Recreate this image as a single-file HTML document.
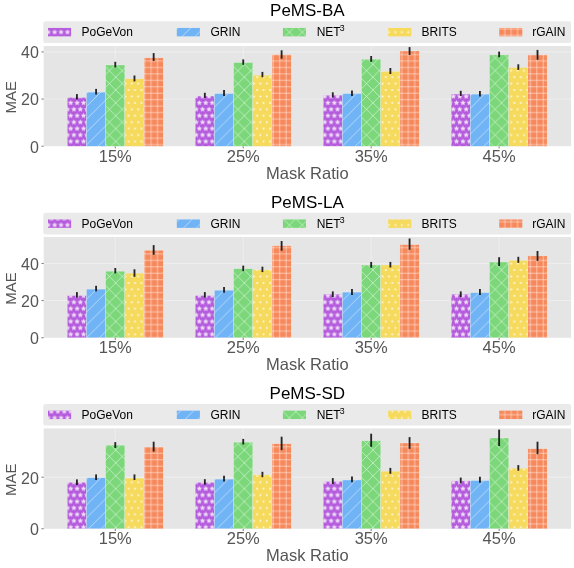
<!DOCTYPE html><html><head><meta charset="utf-8"><style>html,body{margin:0;padding:0;background:#fff;overflow:hidden}svg{display:block;will-change:transform}text{font-family:"Liberation Sans", sans-serif}</style></head><body>
<svg width="574" height="568" viewBox="0 0 574 568">
<defs><pattern id="star" patternUnits="userSpaceOnUse" width="38.58" height="38.58"><path d="M0.00,-2.55 L0.75,-1.03 L2.43,-0.79 L1.21,0.39 L1.50,2.06 L0.00,1.27 L-1.50,2.06 L-1.21,0.39 L-2.43,-0.79 L-0.75,-1.03ZM6.43,-2.55 L7.18,-1.03 L8.86,-0.79 L7.64,0.39 L7.93,2.06 L6.43,1.27 L4.93,2.06 L5.22,0.39 L4.00,-0.79 L5.68,-1.03ZM12.86,-2.55 L13.61,-1.03 L15.29,-0.79 L14.07,0.39 L14.36,2.06 L12.86,1.27 L11.36,2.06 L11.65,0.39 L10.43,-0.79 L12.11,-1.03ZM19.29,-2.55 L20.04,-1.03 L21.72,-0.79 L20.50,0.39 L20.79,2.06 L19.29,1.27 L17.79,2.06 L18.08,0.39 L16.86,-0.79 L18.54,-1.03ZM25.72,-2.55 L26.47,-1.03 L28.15,-0.79 L26.93,0.39 L27.22,2.06 L25.72,1.27 L24.22,2.06 L24.51,0.39 L23.29,-0.79 L24.97,-1.03ZM32.15,-2.55 L32.90,-1.03 L34.58,-0.79 L33.36,0.39 L33.65,2.06 L32.15,1.27 L30.65,2.06 L30.94,0.39 L29.72,-0.79 L31.40,-1.03ZM38.58,-2.55 L39.33,-1.03 L41.01,-0.79 L39.79,0.39 L40.08,2.06 L38.58,1.27 L37.08,2.06 L37.37,0.39 L36.15,-0.79 L37.83,-1.03ZM3.21,3.88 L3.96,5.40 L5.64,5.64 L4.43,6.82 L4.71,8.49 L3.21,7.71 L1.72,8.49 L2.00,6.82 L0.79,5.64 L2.47,5.40ZM9.64,3.88 L10.39,5.40 L12.07,5.64 L10.86,6.82 L11.14,8.49 L9.64,7.71 L8.15,8.49 L8.43,6.82 L7.22,5.64 L8.90,5.40ZM16.07,3.88 L16.82,5.40 L18.50,5.64 L17.29,6.82 L17.57,8.49 L16.07,7.71 L14.58,8.49 L14.86,6.82 L13.65,5.64 L15.33,5.40ZM22.50,3.88 L23.25,5.40 L24.93,5.64 L23.72,6.82 L24.00,8.49 L22.50,7.71 L21.01,8.49 L21.29,6.82 L20.08,5.64 L21.76,5.40ZM28.93,3.88 L29.68,5.40 L31.36,5.64 L30.15,6.82 L30.43,8.49 L28.93,7.71 L27.44,8.49 L27.72,6.82 L26.51,5.64 L28.19,5.40ZM35.36,3.88 L36.11,5.40 L37.79,5.64 L36.58,6.82 L36.86,8.49 L35.36,7.71 L33.87,8.49 L34.15,6.82 L32.94,5.64 L34.62,5.40ZM0.00,10.31 L0.75,11.83 L2.43,12.07 L1.21,13.25 L1.50,14.92 L0.00,14.13 L-1.50,14.92 L-1.21,13.25 L-2.43,12.07 L-0.75,11.83ZM6.43,10.31 L7.18,11.83 L8.86,12.07 L7.64,13.25 L7.93,14.92 L6.43,14.13 L4.93,14.92 L5.22,13.25 L4.00,12.07 L5.68,11.83ZM12.86,10.31 L13.61,11.83 L15.29,12.07 L14.07,13.25 L14.36,14.92 L12.86,14.13 L11.36,14.92 L11.65,13.25 L10.43,12.07 L12.11,11.83ZM19.29,10.31 L20.04,11.83 L21.72,12.07 L20.50,13.25 L20.79,14.92 L19.29,14.13 L17.79,14.92 L18.08,13.25 L16.86,12.07 L18.54,11.83ZM25.72,10.31 L26.47,11.83 L28.15,12.07 L26.93,13.25 L27.22,14.92 L25.72,14.13 L24.22,14.92 L24.51,13.25 L23.29,12.07 L24.97,11.83ZM32.15,10.31 L32.90,11.83 L34.58,12.07 L33.36,13.25 L33.65,14.92 L32.15,14.13 L30.65,14.92 L30.94,13.25 L29.72,12.07 L31.40,11.83ZM38.58,10.31 L39.33,11.83 L41.01,12.07 L39.79,13.25 L40.08,14.92 L38.58,14.13 L37.08,14.92 L37.37,13.25 L36.15,12.07 L37.83,11.83ZM3.21,16.74 L3.96,18.26 L5.64,18.50 L4.43,19.68 L4.71,21.35 L3.21,20.56 L1.72,21.35 L2.00,19.68 L0.79,18.50 L2.47,18.26ZM9.64,16.74 L10.39,18.26 L12.07,18.50 L10.86,19.68 L11.14,21.35 L9.64,20.56 L8.15,21.35 L8.43,19.68 L7.22,18.50 L8.90,18.26ZM16.07,16.74 L16.82,18.26 L18.50,18.50 L17.29,19.68 L17.57,21.35 L16.07,20.56 L14.58,21.35 L14.86,19.68 L13.65,18.50 L15.33,18.26ZM22.50,16.74 L23.25,18.26 L24.93,18.50 L23.72,19.68 L24.00,21.35 L22.50,20.56 L21.01,21.35 L21.29,19.68 L20.08,18.50 L21.76,18.26ZM28.93,16.74 L29.68,18.26 L31.36,18.50 L30.15,19.68 L30.43,21.35 L28.93,20.56 L27.44,21.35 L27.72,19.68 L26.51,18.50 L28.19,18.26ZM35.36,16.74 L36.11,18.26 L37.79,18.50 L36.58,19.68 L36.86,21.35 L35.36,20.56 L33.87,21.35 L34.15,19.68 L32.94,18.50 L34.62,18.26ZM0.00,23.17 L0.75,24.69 L2.43,24.93 L1.21,26.11 L1.50,27.78 L0.00,26.99 L-1.50,27.78 L-1.21,26.11 L-2.43,24.93 L-0.75,24.69ZM6.43,23.17 L7.18,24.69 L8.86,24.93 L7.64,26.11 L7.93,27.78 L6.43,26.99 L4.93,27.78 L5.22,26.11 L4.00,24.93 L5.68,24.69ZM12.86,23.17 L13.61,24.69 L15.29,24.93 L14.07,26.11 L14.36,27.78 L12.86,26.99 L11.36,27.78 L11.65,26.11 L10.43,24.93 L12.11,24.69ZM19.29,23.17 L20.04,24.69 L21.72,24.93 L20.50,26.11 L20.79,27.78 L19.29,26.99 L17.79,27.78 L18.08,26.11 L16.86,24.93 L18.54,24.69ZM25.72,23.17 L26.47,24.69 L28.15,24.93 L26.93,26.11 L27.22,27.78 L25.72,26.99 L24.22,27.78 L24.51,26.11 L23.29,24.93 L24.97,24.69ZM32.15,23.17 L32.90,24.69 L34.58,24.93 L33.36,26.11 L33.65,27.78 L32.15,26.99 L30.65,27.78 L30.94,26.11 L29.72,24.93 L31.40,24.69ZM38.58,23.17 L39.33,24.69 L41.01,24.93 L39.79,26.11 L40.08,27.78 L38.58,26.99 L37.08,27.78 L37.37,26.11 L36.15,24.93 L37.83,24.69ZM3.21,29.60 L3.96,31.12 L5.64,31.36 L4.43,32.54 L4.71,34.21 L3.21,33.42 L1.72,34.21 L2.00,32.54 L0.79,31.36 L2.47,31.12ZM9.64,29.60 L10.39,31.12 L12.07,31.36 L10.86,32.54 L11.14,34.21 L9.64,33.42 L8.15,34.21 L8.43,32.54 L7.22,31.36 L8.90,31.12ZM16.07,29.60 L16.82,31.12 L18.50,31.36 L17.29,32.54 L17.57,34.21 L16.07,33.42 L14.58,34.21 L14.86,32.54 L13.65,31.36 L15.33,31.12ZM22.50,29.60 L23.25,31.12 L24.93,31.36 L23.72,32.54 L24.00,34.21 L22.50,33.42 L21.01,34.21 L21.29,32.54 L20.08,31.36 L21.76,31.12ZM28.93,29.60 L29.68,31.12 L31.36,31.36 L30.15,32.54 L30.43,34.21 L28.93,33.42 L27.44,34.21 L27.72,32.54 L26.51,31.36 L28.19,31.12ZM35.36,29.60 L36.11,31.12 L37.79,31.36 L36.58,32.54 L36.86,34.21 L35.36,33.42 L33.87,34.21 L34.15,32.54 L32.94,31.36 L34.62,31.12ZM0.00,36.03 L0.75,37.55 L2.43,37.79 L1.21,38.97 L1.50,40.64 L0.00,39.85 L-1.50,40.64 L-1.21,38.97 L-2.43,37.79 L-0.75,37.55ZM6.43,36.03 L7.18,37.55 L8.86,37.79 L7.64,38.97 L7.93,40.64 L6.43,39.85 L4.93,40.64 L5.22,38.97 L4.00,37.79 L5.68,37.55ZM12.86,36.03 L13.61,37.55 L15.29,37.79 L14.07,38.97 L14.36,40.64 L12.86,39.85 L11.36,40.64 L11.65,38.97 L10.43,37.79 L12.11,37.55ZM19.29,36.03 L20.04,37.55 L21.72,37.79 L20.50,38.97 L20.79,40.64 L19.29,39.85 L17.79,40.64 L18.08,38.97 L16.86,37.79 L18.54,37.55ZM25.72,36.03 L26.47,37.55 L28.15,37.79 L26.93,38.97 L27.22,40.64 L25.72,39.85 L24.22,40.64 L24.51,38.97 L23.29,37.79 L24.97,37.55ZM32.15,36.03 L32.90,37.55 L34.58,37.79 L33.36,38.97 L33.65,40.64 L32.15,39.85 L30.65,40.64 L30.94,38.97 L29.72,37.79 L31.40,37.55ZM38.58,36.03 L39.33,37.55 L41.01,37.79 L39.79,38.97 L40.08,40.64 L38.58,39.85 L37.08,40.64 L37.37,38.97 L36.15,37.79 L37.83,37.55Z" fill="#ffffff" stroke="#ffffff" stroke-width="0.3" stroke-linejoin="miter" opacity="0.8"/></pattern><pattern id="dot" patternUnits="userSpaceOnUse" width="38.58" height="38.58"><circle cx="0.00" cy="0.00" r="0.95" fill="#ffffff" fill-opacity="0.85"/><circle cx="6.43" cy="0.00" r="0.95" fill="#ffffff" fill-opacity="0.85"/><circle cx="12.86" cy="0.00" r="0.95" fill="#ffffff" fill-opacity="0.85"/><circle cx="19.29" cy="0.00" r="0.95" fill="#ffffff" fill-opacity="0.85"/><circle cx="25.72" cy="0.00" r="0.95" fill="#ffffff" fill-opacity="0.85"/><circle cx="32.15" cy="0.00" r="0.95" fill="#ffffff" fill-opacity="0.85"/><circle cx="38.58" cy="0.00" r="0.95" fill="#ffffff" fill-opacity="0.85"/><circle cx="3.21" cy="6.43" r="0.95" fill="#ffffff" fill-opacity="0.85"/><circle cx="9.64" cy="6.43" r="0.95" fill="#ffffff" fill-opacity="0.85"/><circle cx="16.07" cy="6.43" r="0.95" fill="#ffffff" fill-opacity="0.85"/><circle cx="22.50" cy="6.43" r="0.95" fill="#ffffff" fill-opacity="0.85"/><circle cx="28.93" cy="6.43" r="0.95" fill="#ffffff" fill-opacity="0.85"/><circle cx="35.36" cy="6.43" r="0.95" fill="#ffffff" fill-opacity="0.85"/><circle cx="0.00" cy="12.86" r="0.95" fill="#ffffff" fill-opacity="0.85"/><circle cx="6.43" cy="12.86" r="0.95" fill="#ffffff" fill-opacity="0.85"/><circle cx="12.86" cy="12.86" r="0.95" fill="#ffffff" fill-opacity="0.85"/><circle cx="19.29" cy="12.86" r="0.95" fill="#ffffff" fill-opacity="0.85"/><circle cx="25.72" cy="12.86" r="0.95" fill="#ffffff" fill-opacity="0.85"/><circle cx="32.15" cy="12.86" r="0.95" fill="#ffffff" fill-opacity="0.85"/><circle cx="38.58" cy="12.86" r="0.95" fill="#ffffff" fill-opacity="0.85"/><circle cx="3.21" cy="19.29" r="0.95" fill="#ffffff" fill-opacity="0.85"/><circle cx="9.64" cy="19.29" r="0.95" fill="#ffffff" fill-opacity="0.85"/><circle cx="16.07" cy="19.29" r="0.95" fill="#ffffff" fill-opacity="0.85"/><circle cx="22.50" cy="19.29" r="0.95" fill="#ffffff" fill-opacity="0.85"/><circle cx="28.93" cy="19.29" r="0.95" fill="#ffffff" fill-opacity="0.85"/><circle cx="35.36" cy="19.29" r="0.95" fill="#ffffff" fill-opacity="0.85"/><circle cx="0.00" cy="25.72" r="0.95" fill="#ffffff" fill-opacity="0.85"/><circle cx="6.43" cy="25.72" r="0.95" fill="#ffffff" fill-opacity="0.85"/><circle cx="12.86" cy="25.72" r="0.95" fill="#ffffff" fill-opacity="0.85"/><circle cx="19.29" cy="25.72" r="0.95" fill="#ffffff" fill-opacity="0.85"/><circle cx="25.72" cy="25.72" r="0.95" fill="#ffffff" fill-opacity="0.85"/><circle cx="32.15" cy="25.72" r="0.95" fill="#ffffff" fill-opacity="0.85"/><circle cx="38.58" cy="25.72" r="0.95" fill="#ffffff" fill-opacity="0.85"/><circle cx="3.21" cy="32.15" r="0.95" fill="#ffffff" fill-opacity="0.85"/><circle cx="9.64" cy="32.15" r="0.95" fill="#ffffff" fill-opacity="0.85"/><circle cx="16.07" cy="32.15" r="0.95" fill="#ffffff" fill-opacity="0.85"/><circle cx="22.50" cy="32.15" r="0.95" fill="#ffffff" fill-opacity="0.85"/><circle cx="28.93" cy="32.15" r="0.95" fill="#ffffff" fill-opacity="0.85"/><circle cx="35.36" cy="32.15" r="0.95" fill="#ffffff" fill-opacity="0.85"/><circle cx="0.00" cy="38.58" r="0.95" fill="#ffffff" fill-opacity="0.85"/><circle cx="6.43" cy="38.58" r="0.95" fill="#ffffff" fill-opacity="0.85"/><circle cx="12.86" cy="38.58" r="0.95" fill="#ffffff" fill-opacity="0.85"/><circle cx="19.29" cy="38.58" r="0.95" fill="#ffffff" fill-opacity="0.85"/><circle cx="25.72" cy="38.58" r="0.95" fill="#ffffff" fill-opacity="0.85"/><circle cx="32.15" cy="38.58" r="0.95" fill="#ffffff" fill-opacity="0.85"/><circle cx="38.58" cy="38.58" r="0.95" fill="#ffffff" fill-opacity="0.85"/></pattern><pattern id="diag" patternUnits="userSpaceOnUse" width="38.58" height="38.58"><line x1="0" y1="-38.58" x2="38.58" y2="-77.16" stroke="#ffffff" stroke-width="0.8" stroke-opacity="0.6"/><line x1="0" y1="-25.72" x2="38.58" y2="-64.30" stroke="#ffffff" stroke-width="0.8" stroke-opacity="0.6"/><line x1="0" y1="-12.86" x2="38.58" y2="-51.44" stroke="#ffffff" stroke-width="0.8" stroke-opacity="0.6"/><line x1="0" y1="0.00" x2="38.58" y2="-38.58" stroke="#ffffff" stroke-width="0.8" stroke-opacity="0.6"/><line x1="0" y1="12.86" x2="38.58" y2="-25.72" stroke="#ffffff" stroke-width="0.8" stroke-opacity="0.6"/><line x1="0" y1="25.72" x2="38.58" y2="-12.86" stroke="#ffffff" stroke-width="0.8" stroke-opacity="0.6"/><line x1="0" y1="38.58" x2="38.58" y2="0.00" stroke="#ffffff" stroke-width="0.8" stroke-opacity="0.6"/><line x1="0" y1="51.44" x2="38.58" y2="12.86" stroke="#ffffff" stroke-width="0.8" stroke-opacity="0.6"/><line x1="0" y1="64.30" x2="38.58" y2="25.72" stroke="#ffffff" stroke-width="0.8" stroke-opacity="0.6"/><line x1="0" y1="77.16" x2="38.58" y2="38.58" stroke="#ffffff" stroke-width="0.8" stroke-opacity="0.6"/></pattern><pattern id="cross" patternUnits="userSpaceOnUse" width="38.58" height="38.58"><line x1="0" y1="-38.58" x2="38.58" y2="-77.16" stroke="#ffffff" stroke-width="0.8" stroke-opacity="0.6"/><line x1="0" y1="-25.72" x2="38.58" y2="-64.30" stroke="#ffffff" stroke-width="0.8" stroke-opacity="0.6"/><line x1="0" y1="-12.86" x2="38.58" y2="-51.44" stroke="#ffffff" stroke-width="0.8" stroke-opacity="0.6"/><line x1="0" y1="0.00" x2="38.58" y2="-38.58" stroke="#ffffff" stroke-width="0.8" stroke-opacity="0.6"/><line x1="0" y1="12.86" x2="38.58" y2="-25.72" stroke="#ffffff" stroke-width="0.8" stroke-opacity="0.6"/><line x1="0" y1="25.72" x2="38.58" y2="-12.86" stroke="#ffffff" stroke-width="0.8" stroke-opacity="0.6"/><line x1="0" y1="38.58" x2="38.58" y2="0.00" stroke="#ffffff" stroke-width="0.8" stroke-opacity="0.6"/><line x1="0" y1="51.44" x2="38.58" y2="12.86" stroke="#ffffff" stroke-width="0.8" stroke-opacity="0.6"/><line x1="0" y1="64.30" x2="38.58" y2="25.72" stroke="#ffffff" stroke-width="0.8" stroke-opacity="0.6"/><line x1="0" y1="77.16" x2="38.58" y2="38.58" stroke="#ffffff" stroke-width="0.8" stroke-opacity="0.6"/><line x1="0" y1="-77.16" x2="38.58" y2="-38.58" stroke="#ffffff" stroke-width="0.8" stroke-opacity="0.6"/><line x1="0" y1="-64.30" x2="38.58" y2="-25.72" stroke="#ffffff" stroke-width="0.8" stroke-opacity="0.6"/><line x1="0" y1="-51.44" x2="38.58" y2="-12.86" stroke="#ffffff" stroke-width="0.8" stroke-opacity="0.6"/><line x1="0" y1="-38.58" x2="38.58" y2="0.00" stroke="#ffffff" stroke-width="0.8" stroke-opacity="0.6"/><line x1="0" y1="-25.72" x2="38.58" y2="12.86" stroke="#ffffff" stroke-width="0.8" stroke-opacity="0.6"/><line x1="0" y1="-12.86" x2="38.58" y2="25.72" stroke="#ffffff" stroke-width="0.8" stroke-opacity="0.6"/><line x1="0" y1="0.00" x2="38.58" y2="38.58" stroke="#ffffff" stroke-width="0.8" stroke-opacity="0.6"/><line x1="0" y1="12.86" x2="38.58" y2="51.44" stroke="#ffffff" stroke-width="0.8" stroke-opacity="0.6"/><line x1="0" y1="25.72" x2="38.58" y2="64.30" stroke="#ffffff" stroke-width="0.8" stroke-opacity="0.6"/><line x1="0" y1="38.58" x2="38.58" y2="77.16" stroke="#ffffff" stroke-width="0.8" stroke-opacity="0.6"/></pattern><pattern id="grid" patternUnits="userSpaceOnUse" width="38.58" height="38.58"><line x1="0" y1="3.21" x2="38.58" y2="3.21" stroke="#ffffff" stroke-width="0.8" stroke-opacity="0.6"/><line x1="3.21" y1="0" x2="3.21" y2="38.58" stroke="#ffffff" stroke-width="0.8" stroke-opacity="0.6"/><line x1="0" y1="9.64" x2="38.58" y2="9.64" stroke="#ffffff" stroke-width="0.8" stroke-opacity="0.6"/><line x1="9.64" y1="0" x2="9.64" y2="38.58" stroke="#ffffff" stroke-width="0.8" stroke-opacity="0.6"/><line x1="0" y1="16.07" x2="38.58" y2="16.07" stroke="#ffffff" stroke-width="0.8" stroke-opacity="0.6"/><line x1="16.07" y1="0" x2="16.07" y2="38.58" stroke="#ffffff" stroke-width="0.8" stroke-opacity="0.6"/><line x1="0" y1="22.50" x2="38.58" y2="22.50" stroke="#ffffff" stroke-width="0.8" stroke-opacity="0.6"/><line x1="22.50" y1="0" x2="22.50" y2="38.58" stroke="#ffffff" stroke-width="0.8" stroke-opacity="0.6"/><line x1="0" y1="28.93" x2="38.58" y2="28.93" stroke="#ffffff" stroke-width="0.8" stroke-opacity="0.6"/><line x1="28.93" y1="0" x2="28.93" y2="38.58" stroke="#ffffff" stroke-width="0.8" stroke-opacity="0.6"/><line x1="0" y1="35.36" x2="38.58" y2="35.36" stroke="#ffffff" stroke-width="0.8" stroke-opacity="0.6"/><line x1="35.36" y1="0" x2="35.36" y2="38.58" stroke="#ffffff" stroke-width="0.8" stroke-opacity="0.6"/></pattern></defs>
<rect width="574" height="568" fill="#fff"/>
<text x="307.38" y="16.0" font-size="17" text-anchor="middle" fill="#000">PeMS-BA</text>
<rect x="43.3" y="21.2" width="527.75" height="21.90" rx="2.2" fill="#EAEAEA"/>
<rect x="48.0" y="27.95" width="23.1" height="8.4" fill="#B45ADC"/>
<rect x="48.0" y="27.95" width="23.1" height="8.4" fill="url(#star)"/>
<text x="81.60" y="36.25" font-size="12" fill="#000">PoGeVon</text>
<rect x="176.8" y="27.95" width="23.1" height="8.4" fill="#70B4F6"/>
<rect x="176.8" y="27.95" width="23.1" height="8.4" fill="url(#diag)"/>
<text x="210.40" y="36.25" font-size="12" fill="#000">GRIN</text>
<rect x="282.9" y="27.95" width="23.1" height="8.4" fill="#7BD77A"/>
<rect x="282.9" y="27.95" width="23.1" height="8.4" fill="url(#cross)"/>
<text x="316.70" y="36.25" font-size="12" fill="#000">NET<tspan dx="-0.9" dy="-4.9" font-size="8.8">3</tspan></text>
<rect x="388.2" y="27.95" width="23.1" height="8.4" fill="#F6DA5E"/>
<rect x="388.2" y="27.95" width="23.1" height="8.4" fill="url(#dot)"/>
<text x="421.50" y="36.25" font-size="12" fill="#000">BRITS</text>
<rect x="499.2" y="27.95" width="23.1" height="8.4" fill="#F6895C"/>
<rect x="499.2" y="27.95" width="23.1" height="8.4" fill="url(#grid)"/>
<text x="532.20" y="36.25" font-size="12" fill="#000">rGAIN</text>
<rect x="43.7" y="46.0" width="527.35" height="100.20" fill="#E5E5E5"/>
<line x1="41.50" y1="146.20" x2="43.7" y2="146.20" stroke="#555" stroke-width="0.8"/>
<text x="38.80" y="152.50" font-size="16" text-anchor="end" fill="#555">0</text>
<line x1="43.7" y1="99.05" x2="571.05" y2="99.05" stroke="#fff" stroke-width="0.55" stroke-opacity="0.7"/>
<line x1="41.50" y1="99.05" x2="43.7" y2="99.05" stroke="#555" stroke-width="0.8"/>
<text x="38.80" y="105.35" font-size="16" text-anchor="end" fill="#555">20</text>
<line x1="43.7" y1="51.90" x2="571.05" y2="51.90" stroke="#fff" stroke-width="0.55" stroke-opacity="0.7"/>
<line x1="41.50" y1="51.90" x2="43.7" y2="51.90" stroke="#555" stroke-width="0.8"/>
<text x="38.80" y="58.20" font-size="16" text-anchor="end" fill="#555">40</text>
<line x1="115.28" y1="46.0" x2="115.28" y2="146.2" stroke="#fff" stroke-width="0.55" stroke-opacity="0.7"/>
<line x1="115.28" y1="146.2" x2="115.28" y2="148.40" stroke="#555" stroke-width="0.8"/>
<text x="115.28" y="161.90" font-size="16.5" text-anchor="middle" fill="#555">15%</text>
<line x1="243.23" y1="46.0" x2="243.23" y2="146.2" stroke="#fff" stroke-width="0.55" stroke-opacity="0.7"/>
<line x1="243.23" y1="146.2" x2="243.23" y2="148.40" stroke="#555" stroke-width="0.8"/>
<text x="243.23" y="161.90" font-size="16.5" text-anchor="middle" fill="#555">25%</text>
<line x1="371.17" y1="46.0" x2="371.17" y2="146.2" stroke="#fff" stroke-width="0.55" stroke-opacity="0.7"/>
<line x1="371.17" y1="146.2" x2="371.17" y2="148.40" stroke="#555" stroke-width="0.8"/>
<text x="371.17" y="161.90" font-size="16.5" text-anchor="middle" fill="#555">35%</text>
<line x1="499.12" y1="46.0" x2="499.12" y2="146.2" stroke="#fff" stroke-width="0.55" stroke-opacity="0.7"/>
<line x1="499.12" y1="146.2" x2="499.12" y2="148.40" stroke="#555" stroke-width="0.8"/>
<text x="499.12" y="161.90" font-size="16.5" text-anchor="middle" fill="#555">45%</text>
<rect x="67.30" y="97.50" width="19.19" height="48.70" fill="#B45ADC" stroke="#EEEEEE" stroke-width="0.3"/>
<rect x="67.30" y="97.50" width="19.19" height="48.70" fill="url(#star)"/>
<rect x="86.49" y="92.10" width="19.19" height="54.10" fill="#70B4F6" stroke="#EEEEEE" stroke-width="0.3"/>
<rect x="86.49" y="92.10" width="19.19" height="54.10" fill="url(#diag)"/>
<rect x="105.68" y="65.00" width="19.19" height="81.20" fill="#7BD77A" stroke="#EEEEEE" stroke-width="0.3"/>
<rect x="105.68" y="65.00" width="19.19" height="81.20" fill="url(#cross)"/>
<rect x="124.88" y="78.80" width="19.19" height="67.40" fill="#F6DA5E" stroke="#EEEEEE" stroke-width="0.3"/>
<rect x="124.88" y="78.80" width="19.19" height="67.40" fill="url(#dot)"/>
<rect x="144.07" y="57.90" width="19.19" height="88.30" fill="#F6895C" stroke="#EEEEEE" stroke-width="0.3"/>
<rect x="144.07" y="57.90" width="19.19" height="88.30" fill="url(#grid)"/>
<rect x="195.25" y="96.00" width="19.19" height="50.20" fill="#B45ADC" stroke="#EEEEEE" stroke-width="0.3"/>
<rect x="195.25" y="96.00" width="19.19" height="50.20" fill="url(#star)"/>
<rect x="214.44" y="93.60" width="19.19" height="52.60" fill="#70B4F6" stroke="#EEEEEE" stroke-width="0.3"/>
<rect x="214.44" y="93.60" width="19.19" height="52.60" fill="url(#diag)"/>
<rect x="233.63" y="62.60" width="19.19" height="83.60" fill="#7BD77A" stroke="#EEEEEE" stroke-width="0.3"/>
<rect x="233.63" y="62.60" width="19.19" height="83.60" fill="url(#cross)"/>
<rect x="252.82" y="75.10" width="19.19" height="71.10" fill="#F6DA5E" stroke="#EEEEEE" stroke-width="0.3"/>
<rect x="252.82" y="75.10" width="19.19" height="71.10" fill="url(#dot)"/>
<rect x="272.01" y="54.70" width="19.19" height="91.50" fill="#F6895C" stroke="#EEEEEE" stroke-width="0.3"/>
<rect x="272.01" y="54.70" width="19.19" height="91.50" fill="url(#grid)"/>
<rect x="323.19" y="95.10" width="19.19" height="51.10" fill="#B45ADC" stroke="#EEEEEE" stroke-width="0.3"/>
<rect x="323.19" y="95.10" width="19.19" height="51.10" fill="url(#star)"/>
<rect x="342.39" y="93.60" width="19.19" height="52.60" fill="#70B4F6" stroke="#EEEEEE" stroke-width="0.3"/>
<rect x="342.39" y="93.60" width="19.19" height="52.60" fill="url(#diag)"/>
<rect x="361.58" y="59.20" width="19.19" height="87.00" fill="#7BD77A" stroke="#EEEEEE" stroke-width="0.3"/>
<rect x="361.58" y="59.20" width="19.19" height="87.00" fill="url(#cross)"/>
<rect x="380.77" y="71.40" width="19.19" height="74.80" fill="#F6DA5E" stroke="#EEEEEE" stroke-width="0.3"/>
<rect x="380.77" y="71.40" width="19.19" height="74.80" fill="url(#dot)"/>
<rect x="399.96" y="51.00" width="19.19" height="95.20" fill="#F6895C" stroke="#EEEEEE" stroke-width="0.3"/>
<rect x="399.96" y="51.00" width="19.19" height="95.20" fill="url(#grid)"/>
<rect x="451.14" y="94.10" width="19.19" height="52.10" fill="#B45ADC" stroke="#EEEEEE" stroke-width="0.3"/>
<rect x="451.14" y="94.10" width="19.19" height="52.10" fill="url(#star)"/>
<rect x="470.33" y="94.10" width="19.19" height="52.10" fill="#70B4F6" stroke="#EEEEEE" stroke-width="0.3"/>
<rect x="470.33" y="94.10" width="19.19" height="52.10" fill="url(#diag)"/>
<rect x="489.52" y="54.90" width="19.19" height="91.30" fill="#7BD77A" stroke="#EEEEEE" stroke-width="0.3"/>
<rect x="489.52" y="54.90" width="19.19" height="91.30" fill="url(#cross)"/>
<rect x="508.72" y="67.60" width="19.19" height="78.60" fill="#F6DA5E" stroke="#EEEEEE" stroke-width="0.3"/>
<rect x="508.72" y="67.60" width="19.19" height="78.60" fill="url(#dot)"/>
<rect x="527.91" y="54.90" width="19.19" height="91.30" fill="#F6895C" stroke="#EEEEEE" stroke-width="0.3"/>
<rect x="527.91" y="54.90" width="19.19" height="91.30" fill="url(#grid)"/>
<line x1="76.90" y1="94.10" x2="76.90" y2="99.40" stroke="#151515" stroke-width="1.85" stroke-opacity="0.92"/>
<line x1="96.09" y1="88.90" x2="96.09" y2="94.50" stroke="#151515" stroke-width="1.85" stroke-opacity="0.92"/>
<line x1="115.28" y1="61.80" x2="115.28" y2="67.40" stroke="#151515" stroke-width="1.85" stroke-opacity="0.92"/>
<line x1="134.47" y1="75.50" x2="134.47" y2="81.40" stroke="#151515" stroke-width="1.85" stroke-opacity="0.92"/>
<line x1="153.66" y1="53.10" x2="153.66" y2="60.90" stroke="#151515" stroke-width="1.85" stroke-opacity="0.92"/>
<line x1="204.84" y1="92.80" x2="204.84" y2="97.90" stroke="#151515" stroke-width="1.85" stroke-opacity="0.92"/>
<line x1="224.03" y1="90.00" x2="224.03" y2="96.00" stroke="#151515" stroke-width="1.85" stroke-opacity="0.92"/>
<line x1="243.23" y1="59.40" x2="243.23" y2="64.80" stroke="#151515" stroke-width="1.85" stroke-opacity="0.92"/>
<line x1="262.42" y1="71.90" x2="262.42" y2="77.30" stroke="#151515" stroke-width="1.85" stroke-opacity="0.92"/>
<line x1="281.61" y1="50.30" x2="281.61" y2="58.70" stroke="#151515" stroke-width="1.85" stroke-opacity="0.92"/>
<line x1="332.79" y1="92.30" x2="332.79" y2="97.50" stroke="#151515" stroke-width="1.85" stroke-opacity="0.92"/>
<line x1="351.98" y1="90.40" x2="351.98" y2="96.00" stroke="#151515" stroke-width="1.85" stroke-opacity="0.92"/>
<line x1="371.17" y1="56.00" x2="371.17" y2="61.80" stroke="#151515" stroke-width="1.85" stroke-opacity="0.92"/>
<line x1="390.37" y1="68.00" x2="390.37" y2="74.00" stroke="#151515" stroke-width="1.85" stroke-opacity="0.92"/>
<line x1="409.56" y1="47.10" x2="409.56" y2="54.90" stroke="#151515" stroke-width="1.85" stroke-opacity="0.92"/>
<line x1="460.74" y1="90.80" x2="460.74" y2="96.00" stroke="#151515" stroke-width="1.85" stroke-opacity="0.92"/>
<line x1="479.93" y1="91.00" x2="479.93" y2="96.40" stroke="#151515" stroke-width="1.85" stroke-opacity="0.92"/>
<line x1="499.12" y1="51.60" x2="499.12" y2="57.20" stroke="#151515" stroke-width="1.85" stroke-opacity="0.92"/>
<line x1="518.31" y1="64.30" x2="518.31" y2="69.90" stroke="#151515" stroke-width="1.85" stroke-opacity="0.92"/>
<line x1="537.50" y1="49.90" x2="537.50" y2="59.80" stroke="#151515" stroke-width="1.85" stroke-opacity="0.92"/>
<text transform="translate(16.3,97.20) rotate(-90)" x="0" y="0" font-size="15" text-anchor="middle" fill="#555">MAE</text>
<text x="307.38" y="178.70" font-size="16.5" text-anchor="middle" fill="#555">Mask Ratio</text>
<text x="307.38" y="207.5" font-size="17" text-anchor="middle" fill="#000">PeMS-LA</text>
<rect x="43.3" y="212.7" width="527.75" height="21.90" rx="2.2" fill="#EAEAEA"/>
<rect x="48.0" y="219.45" width="23.1" height="8.4" fill="#B45ADC"/>
<rect x="48.0" y="219.45" width="23.1" height="8.4" fill="url(#star)"/>
<text x="81.60" y="227.75" font-size="12" fill="#000">PoGeVon</text>
<rect x="176.8" y="219.45" width="23.1" height="8.4" fill="#70B4F6"/>
<rect x="176.8" y="219.45" width="23.1" height="8.4" fill="url(#diag)"/>
<text x="210.40" y="227.75" font-size="12" fill="#000">GRIN</text>
<rect x="282.9" y="219.45" width="23.1" height="8.4" fill="#7BD77A"/>
<rect x="282.9" y="219.45" width="23.1" height="8.4" fill="url(#cross)"/>
<text x="316.70" y="227.75" font-size="12" fill="#000">NET<tspan dx="-0.9" dy="-4.9" font-size="8.8">3</tspan></text>
<rect x="388.2" y="219.45" width="23.1" height="8.4" fill="#F6DA5E"/>
<rect x="388.2" y="219.45" width="23.1" height="8.4" fill="url(#dot)"/>
<text x="421.50" y="227.75" font-size="12" fill="#000">BRITS</text>
<rect x="499.2" y="219.45" width="23.1" height="8.4" fill="#F6895C"/>
<rect x="499.2" y="219.45" width="23.1" height="8.4" fill="url(#grid)"/>
<text x="532.20" y="227.75" font-size="12" fill="#000">rGAIN</text>
<rect x="43.7" y="236.9" width="527.35" height="100.85" fill="#E5E5E5"/>
<line x1="41.50" y1="337.75" x2="43.7" y2="337.75" stroke="#555" stroke-width="0.8"/>
<text x="38.80" y="344.05" font-size="16" text-anchor="end" fill="#555">0</text>
<line x1="43.7" y1="300.60" x2="571.05" y2="300.60" stroke="#fff" stroke-width="0.55" stroke-opacity="0.7"/>
<line x1="41.50" y1="300.60" x2="43.7" y2="300.60" stroke="#555" stroke-width="0.8"/>
<text x="38.80" y="306.90" font-size="16" text-anchor="end" fill="#555">20</text>
<line x1="43.7" y1="263.45" x2="571.05" y2="263.45" stroke="#fff" stroke-width="0.55" stroke-opacity="0.7"/>
<line x1="41.50" y1="263.45" x2="43.7" y2="263.45" stroke="#555" stroke-width="0.8"/>
<text x="38.80" y="269.75" font-size="16" text-anchor="end" fill="#555">40</text>
<line x1="115.28" y1="236.9" x2="115.28" y2="337.75" stroke="#fff" stroke-width="0.55" stroke-opacity="0.7"/>
<line x1="115.28" y1="337.75" x2="115.28" y2="339.95" stroke="#555" stroke-width="0.8"/>
<text x="115.28" y="353.45" font-size="16.5" text-anchor="middle" fill="#555">15%</text>
<line x1="243.23" y1="236.9" x2="243.23" y2="337.75" stroke="#fff" stroke-width="0.55" stroke-opacity="0.7"/>
<line x1="243.23" y1="337.75" x2="243.23" y2="339.95" stroke="#555" stroke-width="0.8"/>
<text x="243.23" y="353.45" font-size="16.5" text-anchor="middle" fill="#555">25%</text>
<line x1="371.17" y1="236.9" x2="371.17" y2="337.75" stroke="#fff" stroke-width="0.55" stroke-opacity="0.7"/>
<line x1="371.17" y1="337.75" x2="371.17" y2="339.95" stroke="#555" stroke-width="0.8"/>
<text x="371.17" y="353.45" font-size="16.5" text-anchor="middle" fill="#555">35%</text>
<line x1="499.12" y1="236.9" x2="499.12" y2="337.75" stroke="#fff" stroke-width="0.55" stroke-opacity="0.7"/>
<line x1="499.12" y1="337.75" x2="499.12" y2="339.95" stroke="#555" stroke-width="0.8"/>
<text x="499.12" y="353.45" font-size="16.5" text-anchor="middle" fill="#555">45%</text>
<rect x="67.30" y="295.50" width="19.19" height="42.25" fill="#B45ADC" stroke="#EEEEEE" stroke-width="0.3"/>
<rect x="67.30" y="295.50" width="19.19" height="42.25" fill="url(#star)"/>
<rect x="86.49" y="289.10" width="19.19" height="48.65" fill="#70B4F6" stroke="#EEEEEE" stroke-width="0.3"/>
<rect x="86.49" y="289.10" width="19.19" height="48.65" fill="url(#diag)"/>
<rect x="105.68" y="271.20" width="19.19" height="66.55" fill="#7BD77A" stroke="#EEEEEE" stroke-width="0.3"/>
<rect x="105.68" y="271.20" width="19.19" height="66.55" fill="url(#cross)"/>
<rect x="124.88" y="273.20" width="19.19" height="64.55" fill="#F6DA5E" stroke="#EEEEEE" stroke-width="0.3"/>
<rect x="124.88" y="273.20" width="19.19" height="64.55" fill="url(#dot)"/>
<rect x="144.07" y="250.30" width="19.19" height="87.45" fill="#F6895C" stroke="#EEEEEE" stroke-width="0.3"/>
<rect x="144.07" y="250.30" width="19.19" height="87.45" fill="url(#grid)"/>
<rect x="195.25" y="295.50" width="19.19" height="42.25" fill="#B45ADC" stroke="#EEEEEE" stroke-width="0.3"/>
<rect x="195.25" y="295.50" width="19.19" height="42.25" fill="url(#star)"/>
<rect x="214.44" y="290.20" width="19.19" height="47.55" fill="#70B4F6" stroke="#EEEEEE" stroke-width="0.3"/>
<rect x="214.44" y="290.20" width="19.19" height="47.55" fill="url(#diag)"/>
<rect x="233.63" y="268.80" width="19.19" height="68.95" fill="#7BD77A" stroke="#EEEEEE" stroke-width="0.3"/>
<rect x="233.63" y="268.80" width="19.19" height="68.95" fill="url(#cross)"/>
<rect x="252.82" y="269.90" width="19.19" height="67.85" fill="#F6DA5E" stroke="#EEEEEE" stroke-width="0.3"/>
<rect x="252.82" y="269.90" width="19.19" height="67.85" fill="url(#dot)"/>
<rect x="272.01" y="245.80" width="19.19" height="91.95" fill="#F6895C" stroke="#EEEEEE" stroke-width="0.3"/>
<rect x="272.01" y="245.80" width="19.19" height="91.95" fill="url(#grid)"/>
<rect x="323.19" y="294.20" width="19.19" height="43.55" fill="#B45ADC" stroke="#EEEEEE" stroke-width="0.3"/>
<rect x="323.19" y="294.20" width="19.19" height="43.55" fill="url(#star)"/>
<rect x="342.39" y="292.10" width="19.19" height="45.65" fill="#70B4F6" stroke="#EEEEEE" stroke-width="0.3"/>
<rect x="342.39" y="292.10" width="19.19" height="45.65" fill="url(#diag)"/>
<rect x="361.58" y="265.00" width="19.19" height="72.75" fill="#7BD77A" stroke="#EEEEEE" stroke-width="0.3"/>
<rect x="361.58" y="265.00" width="19.19" height="72.75" fill="url(#cross)"/>
<rect x="380.77" y="265.00" width="19.19" height="72.75" fill="#F6DA5E" stroke="#EEEEEE" stroke-width="0.3"/>
<rect x="380.77" y="265.00" width="19.19" height="72.75" fill="url(#dot)"/>
<rect x="399.96" y="244.70" width="19.19" height="93.05" fill="#F6895C" stroke="#EEEEEE" stroke-width="0.3"/>
<rect x="399.96" y="244.70" width="19.19" height="93.05" fill="url(#grid)"/>
<rect x="451.14" y="294.20" width="19.19" height="43.55" fill="#B45ADC" stroke="#EEEEEE" stroke-width="0.3"/>
<rect x="451.14" y="294.20" width="19.19" height="43.55" fill="url(#star)"/>
<rect x="470.33" y="292.70" width="19.19" height="45.05" fill="#70B4F6" stroke="#EEEEEE" stroke-width="0.3"/>
<rect x="470.33" y="292.70" width="19.19" height="45.05" fill="url(#diag)"/>
<rect x="489.52" y="262.00" width="19.19" height="75.75" fill="#7BD77A" stroke="#EEEEEE" stroke-width="0.3"/>
<rect x="489.52" y="262.00" width="19.19" height="75.75" fill="url(#cross)"/>
<rect x="508.72" y="260.40" width="19.19" height="77.35" fill="#F6DA5E" stroke="#EEEEEE" stroke-width="0.3"/>
<rect x="508.72" y="260.40" width="19.19" height="77.35" fill="url(#dot)"/>
<rect x="527.91" y="255.90" width="19.19" height="81.85" fill="#F6895C" stroke="#EEEEEE" stroke-width="0.3"/>
<rect x="527.91" y="255.90" width="19.19" height="81.85" fill="url(#grid)"/>
<line x1="76.90" y1="292.10" x2="76.90" y2="297.70" stroke="#151515" stroke-width="1.85" stroke-opacity="0.92"/>
<line x1="96.09" y1="285.80" x2="96.09" y2="291.40" stroke="#151515" stroke-width="1.85" stroke-opacity="0.92"/>
<line x1="115.28" y1="268.00" x2="115.28" y2="273.40" stroke="#151515" stroke-width="1.85" stroke-opacity="0.92"/>
<line x1="134.47" y1="269.30" x2="134.47" y2="276.80" stroke="#151515" stroke-width="1.85" stroke-opacity="0.92"/>
<line x1="153.66" y1="245.10" x2="153.66" y2="254.80" stroke="#151515" stroke-width="1.85" stroke-opacity="0.92"/>
<line x1="204.84" y1="292.10" x2="204.84" y2="297.70" stroke="#151515" stroke-width="1.85" stroke-opacity="0.92"/>
<line x1="224.03" y1="287.10" x2="224.03" y2="292.70" stroke="#151515" stroke-width="1.85" stroke-opacity="0.92"/>
<line x1="243.23" y1="265.60" x2="243.23" y2="271.20" stroke="#151515" stroke-width="1.85" stroke-opacity="0.92"/>
<line x1="262.42" y1="266.70" x2="262.42" y2="272.10" stroke="#151515" stroke-width="1.85" stroke-opacity="0.92"/>
<line x1="281.61" y1="241.00" x2="281.61" y2="250.70" stroke="#151515" stroke-width="1.85" stroke-opacity="0.92"/>
<line x1="332.79" y1="291.40" x2="332.79" y2="297.00" stroke="#151515" stroke-width="1.85" stroke-opacity="0.92"/>
<line x1="351.98" y1="288.90" x2="351.98" y2="295.10" stroke="#151515" stroke-width="1.85" stroke-opacity="0.92"/>
<line x1="371.17" y1="261.90" x2="371.17" y2="267.80" stroke="#151515" stroke-width="1.85" stroke-opacity="0.92"/>
<line x1="390.37" y1="261.90" x2="390.37" y2="267.50" stroke="#151515" stroke-width="1.85" stroke-opacity="0.92"/>
<line x1="409.56" y1="238.50" x2="409.56" y2="249.70" stroke="#151515" stroke-width="1.85" stroke-opacity="0.92"/>
<line x1="460.74" y1="291.40" x2="460.74" y2="297.00" stroke="#151515" stroke-width="1.85" stroke-opacity="0.92"/>
<line x1="479.93" y1="289.10" x2="479.93" y2="295.10" stroke="#151515" stroke-width="1.85" stroke-opacity="0.92"/>
<line x1="499.12" y1="257.20" x2="499.12" y2="266.00" stroke="#151515" stroke-width="1.85" stroke-opacity="0.92"/>
<line x1="518.31" y1="256.80" x2="518.31" y2="262.80" stroke="#151515" stroke-width="1.85" stroke-opacity="0.92"/>
<line x1="537.50" y1="251.00" x2="537.50" y2="260.90" stroke="#151515" stroke-width="1.85" stroke-opacity="0.92"/>
<text transform="translate(16.3,288.43) rotate(-90)" x="0" y="0" font-size="15" text-anchor="middle" fill="#555">MAE</text>
<text x="307.38" y="370.25" font-size="16.5" text-anchor="middle" fill="#555">Mask Ratio</text>
<text x="307.38" y="398.7" font-size="17" text-anchor="middle" fill="#000">PeMS-SD</text>
<rect x="43.3" y="404.1" width="527.75" height="21.50" rx="2.2" fill="#EAEAEA"/>
<rect x="48.0" y="410.65" width="23.1" height="8.4" fill="#B45ADC"/>
<rect x="48.0" y="410.65" width="23.1" height="8.4" fill="url(#star)"/>
<text x="81.60" y="418.95" font-size="12" fill="#000">PoGeVon</text>
<rect x="176.8" y="410.65" width="23.1" height="8.4" fill="#70B4F6"/>
<rect x="176.8" y="410.65" width="23.1" height="8.4" fill="url(#diag)"/>
<text x="210.40" y="418.95" font-size="12" fill="#000">GRIN</text>
<rect x="282.9" y="410.65" width="23.1" height="8.4" fill="#7BD77A"/>
<rect x="282.9" y="410.65" width="23.1" height="8.4" fill="url(#cross)"/>
<text x="316.70" y="418.95" font-size="12" fill="#000">NET<tspan dx="-0.9" dy="-4.9" font-size="8.8">3</tspan></text>
<rect x="388.2" y="410.65" width="23.1" height="8.4" fill="#F6DA5E"/>
<rect x="388.2" y="410.65" width="23.1" height="8.4" fill="url(#dot)"/>
<text x="421.50" y="418.95" font-size="12" fill="#000">BRITS</text>
<rect x="499.2" y="410.65" width="23.1" height="8.4" fill="#F6895C"/>
<rect x="499.2" y="410.65" width="23.1" height="8.4" fill="url(#grid)"/>
<text x="532.20" y="418.95" font-size="12" fill="#000">rGAIN</text>
<rect x="43.7" y="428.4" width="527.35" height="100.35" fill="#E5E5E5"/>
<line x1="41.50" y1="528.75" x2="43.7" y2="528.75" stroke="#555" stroke-width="0.8"/>
<text x="38.80" y="535.05" font-size="16" text-anchor="end" fill="#555">0</text>
<line x1="43.7" y1="477.20" x2="571.05" y2="477.20" stroke="#fff" stroke-width="0.55" stroke-opacity="0.7"/>
<line x1="41.50" y1="477.20" x2="43.7" y2="477.20" stroke="#555" stroke-width="0.8"/>
<text x="38.80" y="483.50" font-size="16" text-anchor="end" fill="#555">20</text>
<line x1="115.28" y1="428.4" x2="115.28" y2="528.75" stroke="#fff" stroke-width="0.55" stroke-opacity="0.7"/>
<line x1="115.28" y1="528.75" x2="115.28" y2="530.95" stroke="#555" stroke-width="0.8"/>
<text x="115.28" y="544.45" font-size="16.5" text-anchor="middle" fill="#555">15%</text>
<line x1="243.23" y1="428.4" x2="243.23" y2="528.75" stroke="#fff" stroke-width="0.55" stroke-opacity="0.7"/>
<line x1="243.23" y1="528.75" x2="243.23" y2="530.95" stroke="#555" stroke-width="0.8"/>
<text x="243.23" y="544.45" font-size="16.5" text-anchor="middle" fill="#555">25%</text>
<line x1="371.17" y1="428.4" x2="371.17" y2="528.75" stroke="#fff" stroke-width="0.55" stroke-opacity="0.7"/>
<line x1="371.17" y1="528.75" x2="371.17" y2="530.95" stroke="#555" stroke-width="0.8"/>
<text x="371.17" y="544.45" font-size="16.5" text-anchor="middle" fill="#555">35%</text>
<line x1="499.12" y1="428.4" x2="499.12" y2="528.75" stroke="#fff" stroke-width="0.55" stroke-opacity="0.7"/>
<line x1="499.12" y1="528.75" x2="499.12" y2="530.95" stroke="#555" stroke-width="0.8"/>
<text x="499.12" y="544.45" font-size="16.5" text-anchor="middle" fill="#555">45%</text>
<rect x="67.30" y="482.30" width="19.19" height="46.45" fill="#B45ADC" stroke="#EEEEEE" stroke-width="0.3"/>
<rect x="67.30" y="482.30" width="19.19" height="46.45" fill="url(#star)"/>
<rect x="86.49" y="477.80" width="19.19" height="50.95" fill="#70B4F6" stroke="#EEEEEE" stroke-width="0.3"/>
<rect x="86.49" y="477.80" width="19.19" height="50.95" fill="url(#diag)"/>
<rect x="105.68" y="445.10" width="19.19" height="83.65" fill="#7BD77A" stroke="#EEEEEE" stroke-width="0.3"/>
<rect x="105.68" y="445.10" width="19.19" height="83.65" fill="url(#cross)"/>
<rect x="124.88" y="478.10" width="19.19" height="50.65" fill="#F6DA5E" stroke="#EEEEEE" stroke-width="0.3"/>
<rect x="124.88" y="478.10" width="19.19" height="50.65" fill="url(#dot)"/>
<rect x="144.07" y="447.00" width="19.19" height="81.75" fill="#F6895C" stroke="#EEEEEE" stroke-width="0.3"/>
<rect x="144.07" y="447.00" width="19.19" height="81.75" fill="url(#grid)"/>
<rect x="195.25" y="482.40" width="19.19" height="46.35" fill="#B45ADC" stroke="#EEEEEE" stroke-width="0.3"/>
<rect x="195.25" y="482.40" width="19.19" height="46.35" fill="url(#star)"/>
<rect x="214.44" y="479.10" width="19.19" height="49.65" fill="#70B4F6" stroke="#EEEEEE" stroke-width="0.3"/>
<rect x="214.44" y="479.10" width="19.19" height="49.65" fill="url(#diag)"/>
<rect x="233.63" y="442.10" width="19.19" height="86.65" fill="#7BD77A" stroke="#EEEEEE" stroke-width="0.3"/>
<rect x="233.63" y="442.10" width="19.19" height="86.65" fill="url(#cross)"/>
<rect x="252.82" y="474.80" width="19.19" height="53.95" fill="#F6DA5E" stroke="#EEEEEE" stroke-width="0.3"/>
<rect x="252.82" y="474.80" width="19.19" height="53.95" fill="url(#dot)"/>
<rect x="272.01" y="443.80" width="19.19" height="84.95" fill="#F6895C" stroke="#EEEEEE" stroke-width="0.3"/>
<rect x="272.01" y="443.80" width="19.19" height="84.95" fill="url(#grid)"/>
<rect x="323.19" y="481.40" width="19.19" height="47.35" fill="#B45ADC" stroke="#EEEEEE" stroke-width="0.3"/>
<rect x="323.19" y="481.40" width="19.19" height="47.35" fill="url(#star)"/>
<rect x="342.39" y="480.00" width="19.19" height="48.75" fill="#70B4F6" stroke="#EEEEEE" stroke-width="0.3"/>
<rect x="342.39" y="480.00" width="19.19" height="48.75" fill="url(#diag)"/>
<rect x="361.58" y="440.80" width="19.19" height="87.95" fill="#7BD77A" stroke="#EEEEEE" stroke-width="0.3"/>
<rect x="361.58" y="440.80" width="19.19" height="87.95" fill="url(#cross)"/>
<rect x="380.77" y="471.20" width="19.19" height="57.55" fill="#F6DA5E" stroke="#EEEEEE" stroke-width="0.3"/>
<rect x="380.77" y="471.20" width="19.19" height="57.55" fill="url(#dot)"/>
<rect x="399.96" y="443.00" width="19.19" height="85.75" fill="#F6895C" stroke="#EEEEEE" stroke-width="0.3"/>
<rect x="399.96" y="443.00" width="19.19" height="85.75" fill="url(#grid)"/>
<rect x="451.14" y="480.90" width="19.19" height="47.85" fill="#B45ADC" stroke="#EEEEEE" stroke-width="0.3"/>
<rect x="451.14" y="480.90" width="19.19" height="47.85" fill="url(#star)"/>
<rect x="470.33" y="480.60" width="19.19" height="48.15" fill="#70B4F6" stroke="#EEEEEE" stroke-width="0.3"/>
<rect x="470.33" y="480.60" width="19.19" height="48.15" fill="url(#diag)"/>
<rect x="489.52" y="438.00" width="19.19" height="90.75" fill="#7BD77A" stroke="#EEEEEE" stroke-width="0.3"/>
<rect x="489.52" y="438.00" width="19.19" height="90.75" fill="url(#cross)"/>
<rect x="508.72" y="468.20" width="19.19" height="60.55" fill="#F6DA5E" stroke="#EEEEEE" stroke-width="0.3"/>
<rect x="508.72" y="468.20" width="19.19" height="60.55" fill="url(#dot)"/>
<rect x="527.91" y="448.80" width="19.19" height="79.95" fill="#F6895C" stroke="#EEEEEE" stroke-width="0.3"/>
<rect x="527.91" y="448.80" width="19.19" height="79.95" fill="url(#grid)"/>
<line x1="76.90" y1="479.40" x2="76.90" y2="485.00" stroke="#151515" stroke-width="1.85" stroke-opacity="0.92"/>
<line x1="96.09" y1="474.40" x2="96.09" y2="480.00" stroke="#151515" stroke-width="1.85" stroke-opacity="0.92"/>
<line x1="115.28" y1="442.10" x2="115.28" y2="447.90" stroke="#151515" stroke-width="1.85" stroke-opacity="0.92"/>
<line x1="134.47" y1="474.40" x2="134.47" y2="480.00" stroke="#151515" stroke-width="1.85" stroke-opacity="0.92"/>
<line x1="153.66" y1="441.70" x2="153.66" y2="451.60" stroke="#151515" stroke-width="1.85" stroke-opacity="0.92"/>
<line x1="204.84" y1="479.20" x2="204.84" y2="484.70" stroke="#151515" stroke-width="1.85" stroke-opacity="0.92"/>
<line x1="224.03" y1="475.70" x2="224.03" y2="481.50" stroke="#151515" stroke-width="1.85" stroke-opacity="0.92"/>
<line x1="243.23" y1="438.90" x2="243.23" y2="444.50" stroke="#151515" stroke-width="1.85" stroke-opacity="0.92"/>
<line x1="262.42" y1="471.80" x2="262.42" y2="477.20" stroke="#151515" stroke-width="1.85" stroke-opacity="0.92"/>
<line x1="281.61" y1="436.70" x2="281.61" y2="450.10" stroke="#151515" stroke-width="1.85" stroke-opacity="0.92"/>
<line x1="332.79" y1="478.10" x2="332.79" y2="484.10" stroke="#151515" stroke-width="1.85" stroke-opacity="0.92"/>
<line x1="351.98" y1="476.60" x2="351.98" y2="482.20" stroke="#151515" stroke-width="1.85" stroke-opacity="0.92"/>
<line x1="371.17" y1="433.70" x2="371.17" y2="446.80" stroke="#151515" stroke-width="1.85" stroke-opacity="0.92"/>
<line x1="390.37" y1="467.90" x2="390.37" y2="473.80" stroke="#151515" stroke-width="1.85" stroke-opacity="0.92"/>
<line x1="409.56" y1="437.10" x2="409.56" y2="448.80" stroke="#151515" stroke-width="1.85" stroke-opacity="0.92"/>
<line x1="460.74" y1="477.60" x2="460.74" y2="483.40" stroke="#151515" stroke-width="1.85" stroke-opacity="0.92"/>
<line x1="479.93" y1="476.80" x2="479.93" y2="482.80" stroke="#151515" stroke-width="1.85" stroke-opacity="0.92"/>
<line x1="499.12" y1="429.60" x2="499.12" y2="446.00" stroke="#151515" stroke-width="1.85" stroke-opacity="0.92"/>
<line x1="518.31" y1="465.10" x2="518.31" y2="470.70" stroke="#151515" stroke-width="1.85" stroke-opacity="0.92"/>
<line x1="537.50" y1="441.70" x2="537.50" y2="454.20" stroke="#151515" stroke-width="1.85" stroke-opacity="0.92"/>
<text transform="translate(16.3,479.68) rotate(-90)" x="0" y="0" font-size="15" text-anchor="middle" fill="#555">MAE</text>
<text x="307.38" y="561.25" font-size="16.5" text-anchor="middle" fill="#555">Mask Ratio</text>
</svg></body></html>
